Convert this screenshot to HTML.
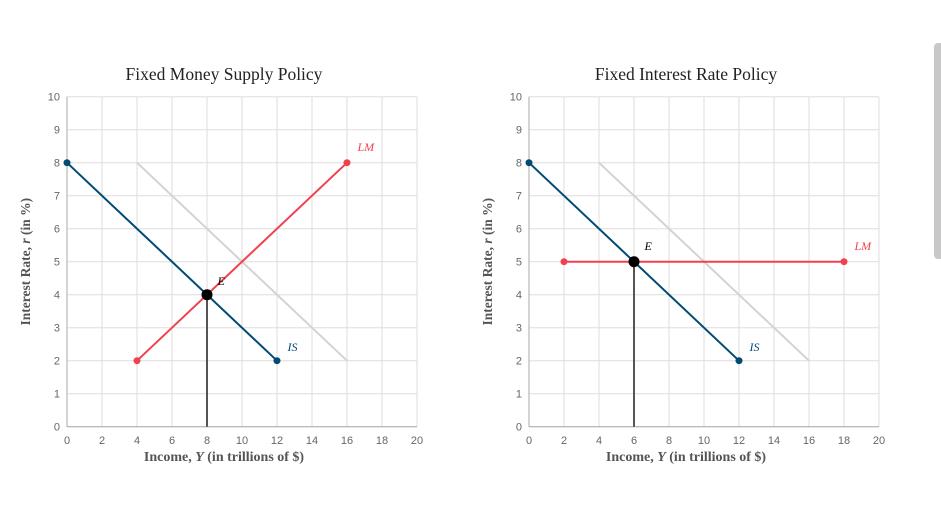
<!DOCTYPE html>
<html><head><meta charset="utf-8"><style>
body{margin:0;width:941px;height:521px;background:#fff;overflow:hidden;position:relative}
svg{position:absolute;left:0;top:0}
.scroll{position:absolute;left:934px;top:43px;width:7px;height:216px;background:#c8c8c8;border-radius:4px 0 0 4px}
</style></head><body>
<svg id="s" width="941" height="521"></svg>
<div class="scroll"></div>
<script>
const xTicks=[0,2,4,6,8,10,12,14,16,18,20];
const yTicks=[0,1,2,3,4,5,6,7,8,9,10];
const leftIS=[[0,8],[12,2]];
const leftISShift=[[4,8],[16,2]];
const leftLM=[[4,2],[16,8]];
const leftE=[8,4];
const rightIS=[[0,8],[12,2]];
const rightISShift=[[4,8],[16,2]];
const rightLM=[[2,5],[18,5]];
const rightE=[6,5];
const titles=["Fixed Money Supply Policy","Fixed Interest Rate Policy"];

const NS="http://www.w3.org/2000/svg";
const svg=document.getElementById('s');
function el(t,a,txt){const e=document.createElementNS(NS,t);for(const k in a)e.setAttribute(k,a[k]);if(txt!=null)e.textContent=txt;svg.appendChild(e);return e;}
function chart(x0,title,IS,ISs,LM,E,lmLab,eLab,isLab,idx){
  const X=v=>x0+v*17.5, Y=v=>426.7-v*33;
  const t=el('text',{x:X(10)-18,y:80,'text-anchor':'middle','font-family':'Liberation Serif, serif','font-size':17.5,fill:'#222'},title);
  
  xTicks.forEach(v=>{const l=el('line',{x1:X(v),x2:X(v),y1:Y(0),y2:Y(10),stroke:'#ddd'});
    
    const tx=el('text',{x:X(v),y:444,'text-anchor':'middle','font-family':'Liberation Sans, sans-serif','font-size':11,fill:'#666'},v);
    });
  yTicks.forEach(v=>{const l=el('line',{x1:X(0),x2:X(20),y1:Y(v),y2:Y(v),stroke:'#ddd'});
    
    const tx=el('text',{x:X(0)-7,y:Y(v)+4,'text-anchor':'end','font-family':'Liberation Sans, sans-serif','font-size':11,fill:'#666'},v);
    });
  const ax=el('line',{x1:X(0),x2:X(0),y1:Y(0),y2:Y(10),stroke:'#aaa'});
  const bx=el('line',{x1:X(0),x2:X(20),y1:Y(0),y2:Y(0),stroke:'#aaa'});
  const xt=el('text',{x:X(10)-18,y:461,'text-anchor':'middle','font-family':'Liberation Serif, serif','font-size':14,'font-weight':'bold',fill:'#555'});
  xt.innerHTML='Income, <tspan font-style="italic">Y</tspan> (in trillions of $)';
  
  const yt=el('text',{x:0,y:0,transform:`translate(${x0-37},${Y(5)}) rotate(-90)`,'text-anchor':'middle','font-family':'Liberation Serif, serif','font-size':13.5,'font-weight':'bold',fill:'#555'});
  yt.innerHTML='Interest Rate, <tspan font-style="italic">r</tspan> (in %)';
  
  const g=el('line',{x1:X(ISs[0][0]),y1:Y(ISs[0][1]),x2:X(ISs[1][0]),y2:Y(ISs[1][1]),stroke:'#d3d3d3','stroke-width':2});
  
  const lm=el('line',{x1:X(LM[0][0]),y1:Y(LM[0][1]),x2:X(LM[1][0]),y2:Y(LM[1][1]),stroke:'#f2404f','stroke-width':2});
  
  LM.forEach(p=>{const c=el('circle',{cx:X(p[0]),cy:Y(p[1]),r:3.5,fill:'#f2404f'});});
  const is=el('line',{x1:X(IS[0][0]),y1:Y(IS[0][1]),x2:X(IS[1][0]),y2:Y(IS[1][1]),stroke:'#004a74','stroke-width':2});
  
  IS.forEach(p=>{const c=el('circle',{cx:X(p[0]),cy:Y(p[1]),r:3.5,fill:'#004a74'});});
  const d=el('line',{x1:X(E[0]),y1:Y(E[1]),x2:X(E[0]),y2:Y(0),stroke:'#555','stroke-width':2});
  
  const e=el('circle',{cx:X(E[0]),cy:Y(E[1]),r:5.5,fill:'#000'});
  const f='Liberation Serif, serif';
  const a=el('text',{x:X(eLab[0]),y:Y(eLab[1]),'font-family':f,'font-style':'italic','font-size':12,fill:'#000'},'E');
  const b=el('text',{x:X(lmLab[0]),y:Y(lmLab[1]),'font-family':f,'font-style':'italic','font-size':12,fill:'#f2404f'},'LM');
  const c=el('text',{x:X(isLab[0]),y:Y(isLab[1]),'font-family':f,'font-style':'italic','font-size':12,fill:'#004a74'},'IS');
}
chart(67,titles[0],leftIS,leftISShift,leftLM,leftE,[16.6,8.35],[8.6,4.3],[12.6,2.3],1);
chart(529,titles[1],rightIS,rightISShift,rightLM,rightE,[18.6,5.35],[6.6,5.35],[12.6,2.3],2);
</script>
</body></html>
